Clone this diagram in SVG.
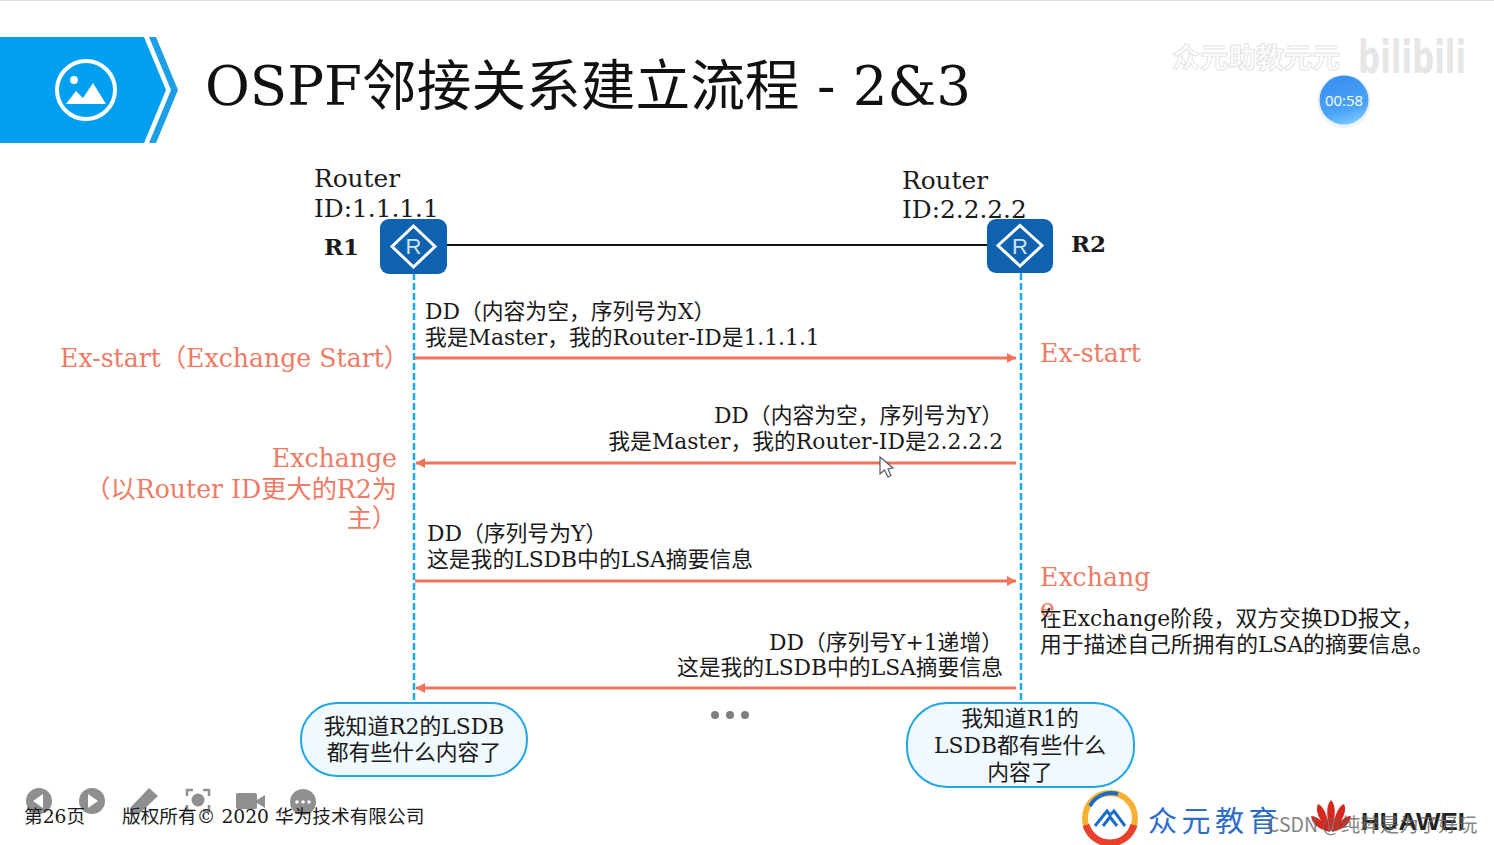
<svg xmlns="http://www.w3.org/2000/svg" width="1494" height="845" viewBox="0 0 1494 845">
<style>
text{font-family:"DejaVu Serif","Noto Sans CJK SC",serif;fill:#1a1a1a}
.m{font-size:21.800px}
.r{font-size:24.800px}
.o{font-size:25.200px;fill:#ee7b65}
.b{font-size:23px;font-weight:bold}
.c{font-size:21.800px;text-anchor:middle}
.f{font-size:18.700px}
.life{stroke:#1fa9e6;stroke-width:2.500;stroke-dasharray:7 3;fill:none}
.msg{stroke:#f0735a;stroke-width:3;fill:none}
.bub{fill:#f0f9fe;stroke:#22a7e4;stroke-width:2}
.rt{fill:#0f62b0}
.dia{fill:none;stroke:#fff;stroke-width:3}
.ic{fill:#8f8f8f}
</style>
<defs>
<marker id="ah" markerUnits="userSpaceOnUse" markerWidth="10" markerHeight="10" refX="9" refY="5" orient="auto-start-reverse"><path d="M0 0L9 5L0 10z" fill="#f0735a"/></marker>
<linearGradient id="tg" x1="0.300" y1="0" x2="0.600" y2="1"><stop offset="0" stop-color="#3a8ff0"/><stop offset="0.700" stop-color="#4aa3f7"/><stop offset="1" stop-color="#7cc8ff"/></linearGradient>
</defs>
<rect width="1494" height="845" fill="#fff"/>
<rect width="1494" height="1" fill="#ddd"/>
<g id="banner">
<path d="M0 37H144L166 90L144 143H0z" fill="#009fef"/>
<path d="M149 37H156L178 90L156 143H149L171 90z" fill="#1d9fe8"/>
<circle cx="86" cy="90" r="29" fill="none" stroke="#fff" stroke-width="4"/>
<circle cx="74" cy="80" r="4" fill="#fff"/>
<path d="M66 104L76 91L83 98L93 83L106 104z" fill="#fff"/>
</g>
<text x="205" y="105" font-size="54.700" style="fill:#111">OSPF邻接关系建立流程 - 2&amp;3</text>
<g id="watermark">
<text x="1172" y="68" font-size="28" style="font-family:'Noto Sans CJK SC',sans-serif;font-weight:bold;fill:#fff;stroke:#e4e4e4;stroke-width:1">众元助教元元</text>
<text transform="translate(1358 73) scale(1 1.500)" font-size="31" style="font-family:'DejaVu Sans',sans-serif;font-weight:bold;fill:#e6e6e6">bilibili</text>
</g>
<g id="timer">
<circle cx="1344" cy="101" r="27" fill="#eef3f8"/>
<circle cx="1344" cy="100" r="24.500" fill="url(#tg)"/>
<text x="1344" y="106" font-size="15" text-anchor="middle" style="font-family:'Open Sans',sans-serif;fill:#fff">00:58</text>
</g>
<g id="connectors">
<line x1="446" y1="245" x2="988" y2="245" stroke="#111" stroke-width="2"/>
<line class="life" x1="414" y1="273" x2="414" y2="703"/>
<line class="life" x1="1021" y1="273" x2="1021" y2="703"/>
<line class="msg" x1="415" y1="358" x2="1016" y2="358" marker-end="url(#ah)"/>
<line class="msg" x1="1016" y1="463" x2="416" y2="463" marker-end="url(#ah)"/>
<line class="msg" x1="415" y1="581" x2="1016" y2="581" marker-end="url(#ah)"/>
<line class="msg" x1="1016" y1="688" x2="416" y2="688" marker-end="url(#ah)"/>
</g>
<g id="r1">
<rect class="rt" x="380" y="219" width="67" height="55" rx="9"/>
<path class="dia" d="M413.500 226L435 246.500L413.500 267L392 246.500z"/>
<text x="413.500" y="254" font-size="22" text-anchor="middle" style="font-family:'Liberation Sans',sans-serif;fill:#cfe3f5">R</text>
<text class="b" x="324" y="255">R1</text>
<text class="r" x="314" y="187">Router</text>
<text class="r" x="314" y="217">ID:1.1.1.1</text>
</g>
<g id="r2">
<rect class="rt" x="987" y="219" width="66" height="54" rx="9"/>
<path class="dia" d="M1020 225.500L1042 245.500L1020 266L998 245.500z"/>
<text x="1020" y="254" font-size="22" text-anchor="middle" style="font-family:'Liberation Sans',sans-serif;fill:#cfe3f5">R</text>
<text class="b" x="1071" y="252">R2</text>
<text class="r" x="902" y="189">Router</text>
<text class="r" x="902" y="218">ID:2.2.2.2</text>
</g>
<g id="labels">
<text class="o" x="60" y="367">Ex-start（Exchange Start）</text>
<text class="o" x="397" y="467" text-anchor="end">Exchange</text>
<text class="o" x="397" y="498" text-anchor="end">（以Router ID更大的R2为</text>
<text class="o" x="397" y="527" text-anchor="end">主）</text>
<text class="o" x="1040" y="362">Ex-start</text>
<text class="o" x="1040" y="586">Exchang</text>
<text class="o" x="1040" y="617">e</text>
<text class="m" x="425" y="319">DD（内容为空，序列号为X）</text>
<text class="m" x="425" y="345">我是Master，我的Router-ID是1.1.1.1</text>
<text class="m" x="1003" y="423" text-anchor="end">DD（内容为空，序列号为Y）</text>
<text class="m" x="1003" y="449" text-anchor="end">我是Master，我的Router-ID是2.2.2.2</text>
<text class="m" x="427" y="541">DD（序列号为Y）</text>
<text class="m" x="427" y="567">这是我的LSDB中的LSA摘要信息</text>
<text class="m" x="1003" y="650" text-anchor="end">DD（序列号Y+1递增）</text>
<text class="m" x="1003" y="675" text-anchor="end">这是我的LSDB中的LSA摘要信息</text>
<text class="m" x="1040" y="626">在Exchange阶段，双方交换DD报文，</text>
<text class="m" x="1040" y="652">用于描述自己所拥有的LSA的摘要信息。</text>
</g>
<g id="cursor"><path d="M880 457V474L884.500 470L888 477L891 475.500L888 469L893 468z" fill="#fff" stroke="#556" stroke-width="1.200"/></g>
<g id="dots" fill="#7f7f7f"><circle cx="715" cy="715" r="4"/><circle cx="730" cy="715" r="4"/><circle cx="745" cy="715" r="4"/></g>
<g id="bubble1">
<rect class="bub" x="301" y="703" width="226" height="73" rx="36"/>
<text class="c" x="414" y="734">我知道R2的LSDB</text>
<text class="c" x="414" y="760">都有些什么内容了</text>
</g>
<g id="bubble2">
<rect class="bub" x="907" y="703" width="227" height="84" rx="40"/>
<text class="c" x="1020" y="726">我知道R1的</text>
<text class="c" x="1020" y="753">LSDB都有些什么</text>
<text class="c" x="1020" y="780">内容了</text>
</g>
<g id="toolbar">
<circle class="ic" cx="39" cy="801" r="13"/><path d="M33 801L43 794V808z" fill="#fff"/>
<circle class="ic" cx="92" cy="801" r="13"/><path d="M98 801L88 794V808z" fill="#fff"/>
<path class="ic" d="M130 808L149 788L158 796L139 814L130 815z"/>
<path d="M187 796V790H193M203 790H209V796M209 805V811H203M193 811H187V805" fill="none" stroke="#8f8f8f" stroke-width="2.500"/>
<circle class="ic" cx="198" cy="800" r="6.500"/>
<rect class="ic" x="236" y="793" width="21" height="16" rx="2"/><path class="ic" d="M257 800L265 795V808L257 803z"/>
<circle class="ic" cx="303" cy="802" r="13"/>
<g fill="#fff"><circle cx="297" cy="802" r="1.800"/><circle cx="303" cy="802" r="1.800"/><circle cx="309" cy="802" r="1.800"/></g>
</g>
<g id="footer">
<text class="f" x="24" y="823">第26页</text>
<text class="f" x="122" y="823">版权所有© 2020 华为技术有限公司</text>
</g>
<g id="logo1">
<circle cx="1110" cy="818" r="25" fill="none" stroke="#f5b133" stroke-width="6"/>
<path d="M1086 825A25 25 0 0 0 1134 825" fill="none" stroke="#e8402c" stroke-width="7"/>
<path d="M1090 806A24 24 0 0 1 1118 794" fill="none" stroke="#1a6cc4" stroke-width="4"/>
<path d="M1095 826L1107 811L1110 815L1114 811L1125 826M1103 826L1110 817L1117 826" fill="none" stroke="#1a6cc4" stroke-width="3"/>
<text x="1148" y="832" font-size="29" style="font-family:'Noto Sans CJK SC',sans-serif;fill:#2d6cc8" letter-spacing="4.500">众元教育</text>
</g>
<g id="logo2" fill="#d5281e">
<path d="M1330 832C1322 830 1312 826 1311 816C1318 816 1326 824 1330 832Z"/>
<path d="M1330 832C1322 824 1314 812 1318 804C1324 806 1329 820 1330 832Z"/>
<path d="M1331 832C1327 820 1325 806 1331 800C1337 806 1335 820 1331 832Z"/>
<path d="M1332 832C1333 820 1338 806 1344 804C1348 812 1340 824 1332 832Z"/>
<path d="M1332 832C1336 824 1344 816 1351 816C1350 826 1340 830 1332 832Z"/>
<text x="1361" y="830" font-size="23" style="font-family:'Liberation Sans',sans-serif;font-weight:bold;fill:#222" textLength="104" lengthAdjust="spacingAndGlyphs">HUAWEI</text>
</g>
<text x="1267" y="832" font-size="19.500" style="font-family:'Noto Sans CJK SC',sans-serif;fill:#666;opacity:.8">CSDN @纯粹是为了好玩</text>
</svg>
